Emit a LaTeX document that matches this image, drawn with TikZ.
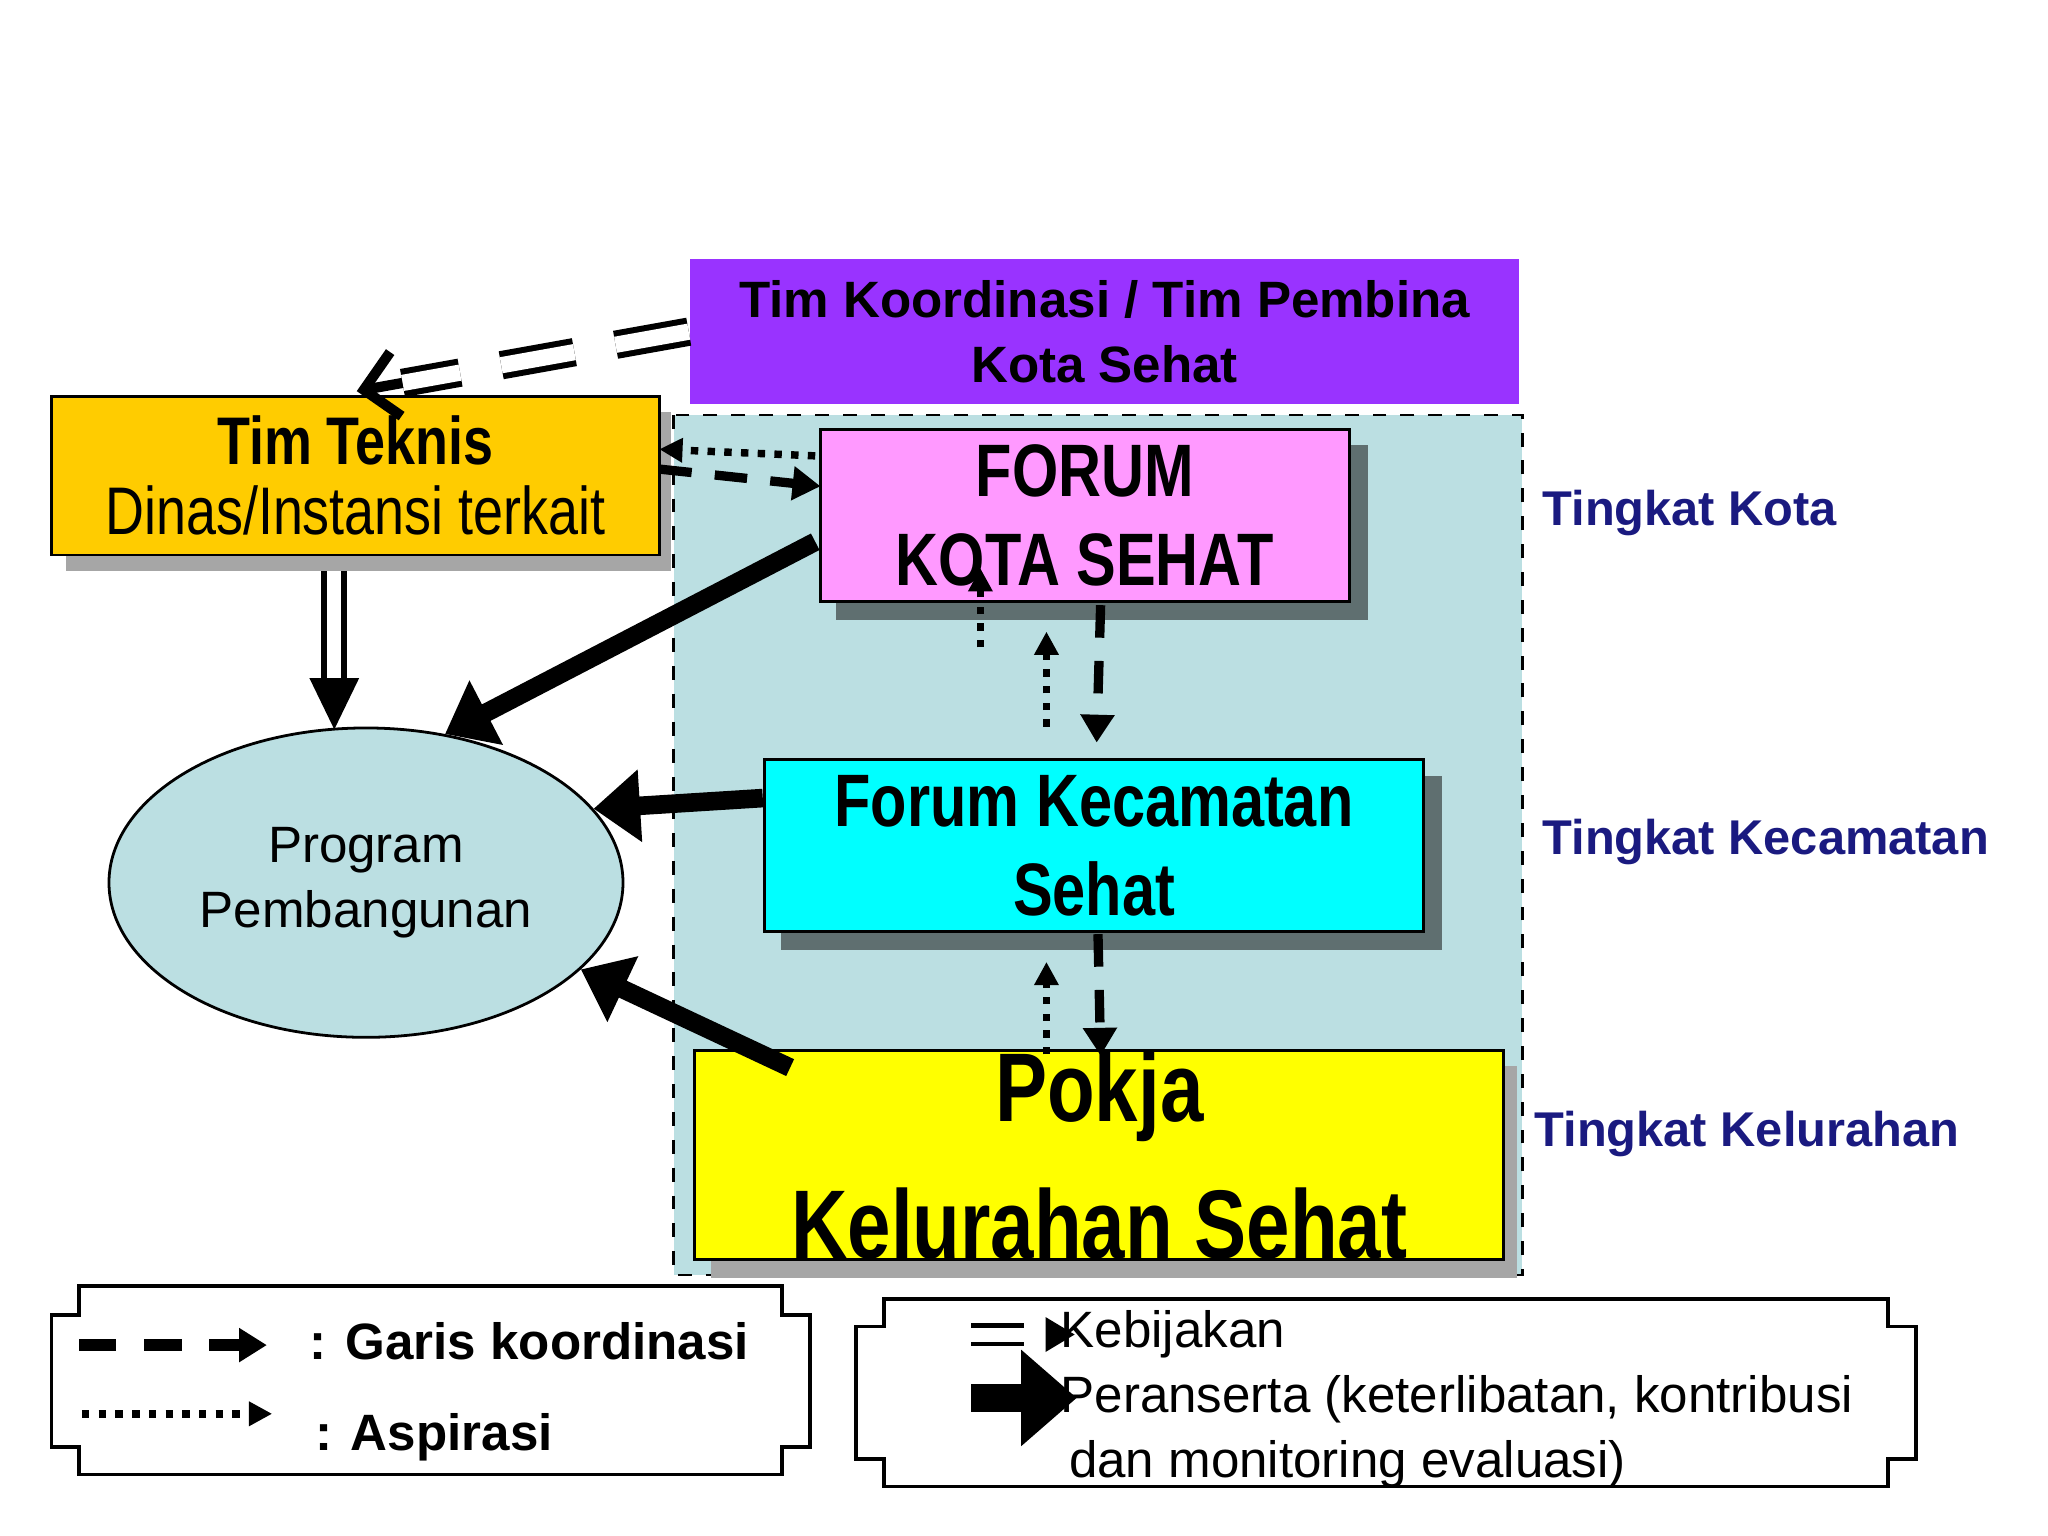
\documentclass[tikz,border=0pt]{standalone}
\usepackage{fontspec}
\setmainfont{Liberation Sans}
\usetikzlibrary{positioning,shapes,arrows.meta,calc}
\definecolor{teal bg}{HTML}{BBDFE2}
\definecolor{purplebox}{HTML}{9933FF}
\definecolor{navy}{HTML}{1A1A80}
\definecolor{shadowgray}{HTML}{5F6F70}
\definecolor{orangebox}{HTML}{FFCC00}
\definecolor{pinkbox}{HTML}{FF99FF}
\definecolor{cyanbox}{HTML}{00FFFF}
\definecolor{yellowbox}{HTML}{FFFF00}
\newcommand{\narrow}[1]{\scalebox{0.8}[1]{#1}}
\tikzset{
  level box/.style={draw=black, line width=0.6pt, inner sep=0pt, align=center},
  level label/.style={anchor=west, text=navy, font=\bfseries\fontsize{10.5}{12}\selectfont},
  thick arrow/.style={line width=4pt, -{Triangle[length=10pt,width=15pt]}},
  dotted arrow/.style={line width=1.6pt, dotted, -{Triangle[length=5pt,width=5pt]}},
  dashed arrow/.style={line width=2pt, dash pattern=on 7pt off 5pt, -{Triangle[length=6pt,width=7pt]}}
}
\begin{document}
\begin{tikzpicture}[x=0.01cm, y=-0.01cm, >=stealth]
\useasboundingbox (0,0) rectangle (1550,1162);

% shaded region
\draw[fill=teal bg, dashed, line width=0.6pt] (510,314) rectangle (1152,965);

% shadows
\fill[gray!70] (50,312) rectangle (508,432);
\fill[shadowgray] (633,337) rectangle (1035,469);
\fill[shadowgray] (591,587) rectangle (1091,719);
\fill[gray!70] (538,807) rectangle (1148,967);

\node[level box, draw=none, fill=purplebox, minimum width=6.27cm, minimum height=1.1cm,
  font=\bfseries\fontsize{11}{14}\selectfont] (koord) at (836,251)
  {Tim Koordinasi / Tim Pembina\\Kota Sehat};
\node[level box, fill=orangebox, minimum width=4.6cm, minimum height=1.2cm] (teknis) at (269,360)
  {\narrow{\bfseries\fontsize{14.5}{17}\selectfont Tim Teknis}\\[3pt]
   \narrow{\fontsize{14.5}{17}\selectfont Dinas/Instansi terkait}};
\node[level box, fill=pinkbox, minimum width=4cm, minimum height=1.3cm] (kota) at (821,390)
  {\narrow{\bfseries\fontsize{16}{19}\selectfont FORUM}\\[7pt]
   \narrow{\bfseries\fontsize{16}{19}\selectfont KOTA SEHAT}};
\node[level box, fill=cyanbox, minimum width=4.99cm, minimum height=1.3cm] (kecamatan) at (828,640)
  {\narrow{\bfseries\fontsize{16}{19}\selectfont Forum Kecamatan}\\[7pt]
   \narrow{\bfseries\fontsize{16}{19}\selectfont Sehat}};
\node[level box, fill=yellowbox, minimum width=6.12cm, minimum height=1.58cm] (pokja) at (832,874)
  {\narrow{\bfseries\fontsize{21}{24}\selectfont Pokja}\\[9pt]
   \narrow{\bfseries\fontsize{21}{24}\selectfont Kelurahan Sehat}};
\node[ellipse, draw, line width=0.6pt, fill=teal bg, minimum width=3.46cm, minimum height=2.34cm,
  align=center, font=\fontsize{11}{14}\selectfont] (program) at (277,668)
  {Program\\Pembangunan};

\node[level label] (tkota) at (1155,388) {Tingkat Kota};
\node[level label] (tkec) at (1155,637) {Tingkat Kecamatan};
\node[level label] (tkel) at (1149,858) {Tingkat Kelurahan};

% coordination from Tim Koordinasi
\coordinate (kt) at (270,296);
\draw[line width=1.3pt, double, double distance=3.5pt, dash pattern=on 16pt off 9pt]
  (koord.west) -- ($(kt)!10pt!(koord.west)$);
\draw[line width=2.2pt, -{Straight Barb[length=7pt,width=14pt]}]
  ($(kt)!10pt!(koord.west)$) -- (kt);

% between Tim Teknis and Forum Kota
\draw[dotted arrow] (617,345) -- (499,340);
\draw[dashed arrow] (499,355) -- (621,368);

% kebijakan
\coordinate (pt) at (253,548);
\draw[line width=1.3pt, double, double distance=3pt] (253,432) -- (253,515);
\draw[line width=1pt, fill=black] (237,515) -- (269,515) -- (pt) -- cycle;

% peranserta
\draw[thick arrow] (617,410) -- (program.62);
\draw[thick arrow] (kecamatan.west |- 0,604) -- (program.18);
\draw[thick arrow] (598,808) -- (program.-22);

% vertical links
\draw[dotted arrow] (742,490) -- (742,430);
\draw[dotted arrow] (792,550) -- (792,478);
\draw[dashed arrow] (833,458) -- (830,562);
\draw[dotted arrow] (792,798) -- (792,728);
\draw[dashed arrow] (831,707) -- (833,799);

% legend left
\draw[line width=0.8pt] (60,973) -- (592,973) -- (592,995) -- (613,995) -- (613,1095)
  -- (592,1095) -- (592,1116) -- (60,1116) -- (60,1095) -- (39,1095) -- (39,995)
  -- (60,995) -- cycle;
\coordinate (la) at (60,1018);
\coordinate (lb) at (202,1018);
\draw[line width=2.5pt, dash pattern=on 8pt off 6pt, -{Triangle[length=6pt,width=7pt]}] (la) -- (lb);
\node[anchor=west, font=\bfseries\fontsize{11}{13}\selectfont] (lgaris) at (222,1015) {: Garis koordinasi};
\coordinate (lc) at (62,1070);
\coordinate (ld) at (206,1070);
\draw[dotted arrow] (lc) -- (ld);
\node[anchor=west, font=\bfseries\fontsize{11}{13}\selectfont] (laspi) at (226,1088) {: Aspirasi};

% legend right
\draw[line width=0.8pt] (669,983) -- (1429,983) -- (1429,1004) -- (1450,1004) -- (1450,1104)
  -- (1429,1104) -- (1429,1125) -- (669,1125) -- (669,1104) -- (648,1104) -- (648,1004)
  -- (669,1004) -- cycle;
\draw[line width=1pt, double, double distance=3pt] (735,1010) -- (775,1010);
\coordinate (le) at (812,1010);
\draw[fill=black] (792,998) -- (792,1022) -- (le) -- cycle;
\node[anchor=west, inner sep=0pt, font=\fontsize{11}{13}\selectfont] (lkeb) at (802,1010) {Kebijakan};
\coordinate (lf) at (735,1058);
\coordinate (lg) at (815,1058);
\draw[line width=6pt, -{Triangle[length=12pt,width=20pt]}] (lf) -- (lg);
\node[anchor=north west, inner sep=0pt, align=left, font=\fontsize{11}{14}\selectfont] (lper) at (802,1040)
  {Peranserta (keterlibatan, kontribusi\\ \,dan monitoring evaluasi)};
\end{tikzpicture}
\end{document}
